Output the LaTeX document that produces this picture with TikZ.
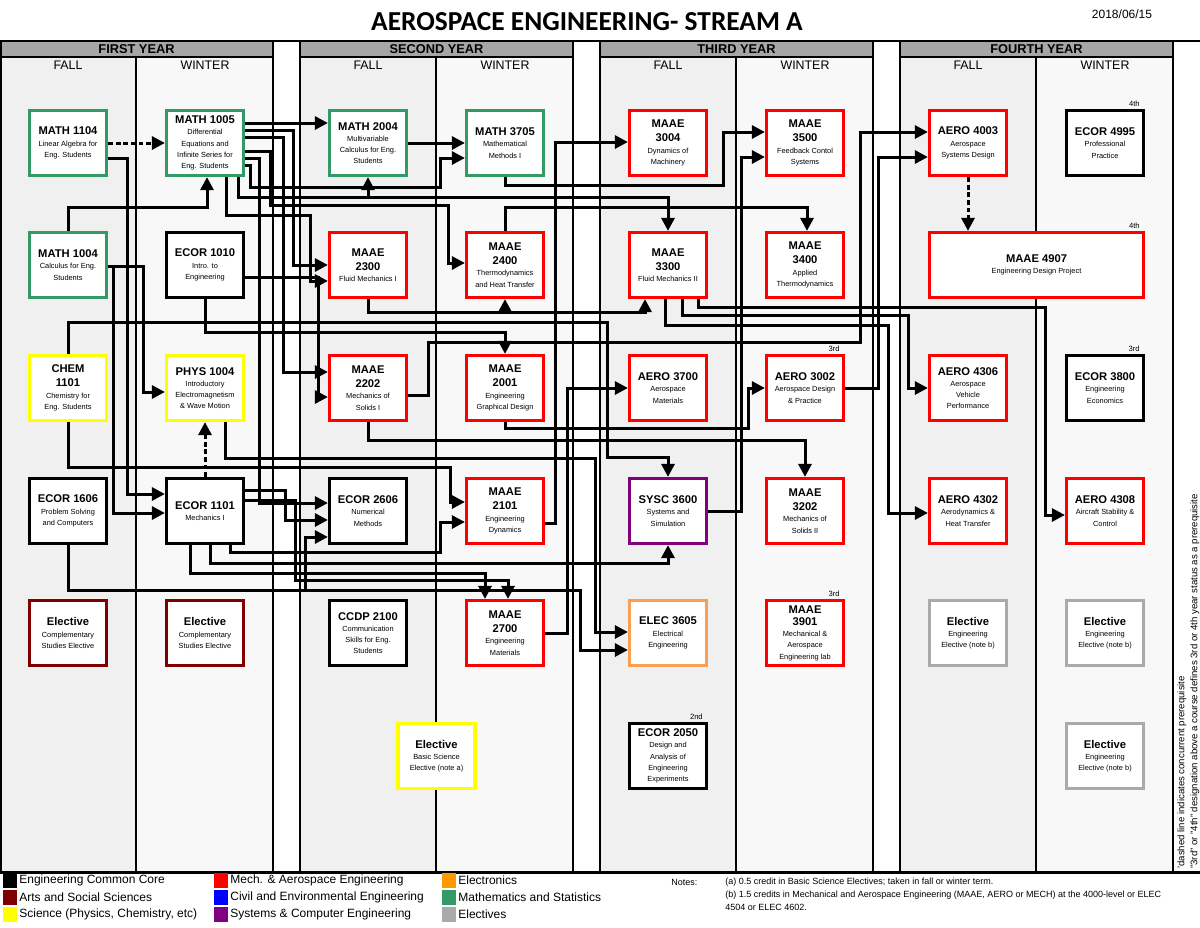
\documentclass[tikz,border=0pt]{standalone}
\usepackage{fontspec}
\setmainfont{Liberation Sans}
\newfontfamily\headfont{Carlito}
\usetikzlibrary{arrows.meta,calc}

\newcommand{\cname}[1]{{\fontsize{5.6}{6.6}\selectfont\bfseries #1}}

\begin{document}
\begin{tikzpicture}[x=0.5pt, y=-0.5pt,
  box/.style={draw, line width=1.6pt, fill=white, minimum width=38.5pt,
    minimum height=32.5pt, align=center, inner sep=0.5pt,
    font=\fontsize{3.7}{5.6}\selectfont},
  mathbox/.style={box, draw=mathgreen},
  maaebox/.style={box, draw=maaered},
  ecorbox/.style={box, draw=black},
  scibox/.style={box, draw=sciyellow},
  artsbox/.style={box, draw=artsred},
  elecbox/.style={box, draw=elecorange},
  syscbox/.style={box, draw=syscpurple},
  electbox/.style={box, draw=electgray},
  wire/.style={line width=1.5pt, -{Triangle[length=6.5pt,width=6.5pt]}},
  conc/.style={wire, dash pattern=on 2.4pt off 1.4pt},
  lvl/.style={font=\fontsize{3.8}{4}\selectfont, inner sep=0.5pt, anchor=south east},
  yearlbl/.style={font=\fontsize{6.4}{7}\selectfont\bfseries, inner sep=0pt},
  semlbl/.style={font=\fontsize{6.2}{7}\selectfont, inner sep=0pt},
  legtxt/.style={font=\fontsize{6}{7}\selectfont, anchor=west, inner sep=0pt},
  notetxt/.style={font=\fontsize{4.5}{5}\selectfont, anchor=west, inner sep=0pt}
]

% Colours of the categories
\definecolor{mathgreen}{RGB}{51,153,102}
\definecolor{maaered}{RGB}{255,0,0}
\definecolor{sciyellow}{RGB}{255,255,0}
\definecolor{artsred}{RGB}{128,0,0}
\definecolor{elecorange}{RGB}{247,160,80}
\definecolor{legorange}{RGB}{255,153,0}
\definecolor{syscpurple}{RGB}{128,0,128}
\definecolor{electgray}{RGB}{170,170,170}
\definecolor{civilblue}{RGB}{0,0,255}
\definecolor{fallgray}{RGB}{240,240,240}
\definecolor{wintergray}{RGB}{248,248,248}
\definecolor{headgray}{RGB}{166,166,166}

\useasboundingbox (0,0) rectangle (1200,927);

% --- THE GRID: years and terms ---
\foreach \x in {0,300,600,900} {
  \fill[fallgray] (\x,57) rectangle (\x+136,872);
  \fill[wintergray] (\x+136,57) rectangle (\x+273,872);
  \fill[headgray] (\x,41) rectangle (\x+273,57);
  \draw[line width=0.8pt] (\x,57) -- (\x+273,57);
  \node[semlbl] (fa\x) at (\x+68,65) {FALL};
  \node[semlbl] (wi\x) at (\x+205,65) {WINTER};
}
\foreach \x/\yr in {0/FIRST YEAR,300/SECOND YEAR,600/THIRD YEAR,900/FOURTH YEAR}
  \node[yearlbl] (yr\x) at (\x+136.5,49) {\yr};
\foreach \x in {1,273,300,573,600,873,900,1173}
  \draw[line width=1pt] (\x,41) -- (\x,872);
\foreach \x in {136,436,736,1036}
  \draw[line width=0.7pt] (\x,57) -- (\x,872);
\draw[line width=1.4pt] (0,41) -- (1200,41);
\draw[line width=1.3pt] (0,872.5) -- (1200,872.5);

\node[font=\headfont\bfseries\fontsize{13.7}{15}\selectfont] (title) at (587,22)
  {AEROSPACE ENGINEERING- STREAM A};
\node[font=\fontsize{6}{7}\selectfont] (date) at (1122,14) {2018/06/15};

% --- FIRST YEAR ---
\node[mathbox] (m1104) at (68,143) {\cname{MATH 1104}\\Linear Algebra for\\Eng. Students};
\node[mathbox] (m1005) at (205,143) {\cname{MATH 1005}\\Differential\\Equations and\\Infinite Series for\\Eng. Students};
\node[mathbox] (m1004) at (68,265) {\cname{MATH 1004}\\Calculus for Eng.\\Students};
\node[ecorbox] (c1010) at (205,265) {\cname{ECOR 1010}\\Intro. to\\Engineering};
\node[scibox] (ch1101) at (68,388) {\cname{CHEM}\\[1.4pt]\cname{1101}\\Chemistry for\\Eng. Students};
\node[scibox] (p1004) at (205,388) {\cname{PHYS 1004}\\Introductory\\Electromagnetism\\\& Wave Motion};
\node[ecorbox] (c1606) at (68,511) {\cname{ECOR 1606}\\Problem Solving\\and Computers};
\node[ecorbox] (c1101) at (205,511) {\cname{ECOR 1101}\\Mechanics I};
\node[artsbox] (el1) at (68,633) {\cname{Elective}\\Complementary\\Studies Elective};
\node[artsbox] (el2) at (205,633) {\cname{Elective}\\Complementary\\Studies Elective};

% --- SECOND YEAR ---
\node[mathbox] (m2004) at (368,143) {\cname{MATH 2004}\\Multivariable\\Calculus for Eng.\\Students};
\node[mathbox] (m3705) at (505,143) {\cname{MATH 3705}\\Mathematical\\Methods I};
\node[maaebox] (e2300) at (368,265) {\cname{MAAE}\\[1.4pt]\cname{2300}\\Fluid Mechanics I};
\node[maaebox] (e2400) at (505,265) {\cname{MAAE}\\[1.4pt]\cname{2400}\\Thermodynamics\\and Heat Transfer};
\node[maaebox] (e2202) at (368,388) {\cname{MAAE}\\[1.4pt]\cname{2202}\\Mechanics of\\Solids I};
\node[maaebox] (e2001) at (505,388) {\cname{MAAE}\\[1.4pt]\cname{2001}\\Engineering\\Graphical Design};
\node[ecorbox] (c2606) at (368,511) {\cname{ECOR 2606}\\Numerical\\Methods};
\node[maaebox] (e2101) at (505,511) {\cname{MAAE}\\[1.4pt]\cname{2101}\\Engineering\\Dynamics};
\node[ecorbox] (cc2100) at (368,633) {\cname{CCDP 2100}\\Communication\\Skills for Eng.\\Students};
\node[maaebox] (e2700) at (505,633) {\cname{MAAE}\\[1.4pt]\cname{2700}\\Engineering\\Materials};
\node[scibox] (elb) at (436.5,756) {\cname{Elective}\\Basic Science\\Elective (note a)};

% --- THIRD YEAR ---
\node[maaebox] (e3004) at (668,143) {\cname{MAAE}\\[1.4pt]\cname{3004}\\Dynamics of\\Machinery};
\node[maaebox] (e3500) at (805,143) {\cname{MAAE}\\[1.4pt]\cname{3500}\\Feedback Contol\\Systems};
\node[maaebox] (e3300) at (668,265) {\cname{MAAE}\\[1.4pt]\cname{3300}\\Fluid Mechanics II};
\node[maaebox] (e3400) at (805,265) {\cname{MAAE}\\[1.4pt]\cname{3400}\\Applied\\Thermodynamics};
\node[maaebox] (a3700) at (668,388) {\cname{AERO 3700}\\Aerospace\\Materials};
\node[maaebox] (a3002) at (805,388) {\cname{AERO 3002}\\Aerospace Design\\\& Practice};
\node[syscbox] (s3600) at (668,511) {\cname{SYSC 3600}\\Systems and\\Simulation};
\node[maaebox] (e3202) at (805,511) {\cname{MAAE}\\[1.4pt]\cname{3202}\\Mechanics of\\Solids II};
\node[elecbox] (el3605) at (668,633) {\cname{ELEC 3605}\\Electrical\\Engineering};
\node[maaebox] (e3901) at (805,633) {\cname{MAAE}\\[0.6pt]\cname{3901}\\Mechanical \&\\Aerospace\\Engineering lab};
\node[ecorbox] (c2050) at (668,756) {\cname{ECOR 2050}\\Design and\\Analysis of\\Engineering\\Experiments};

% --- FOURTH YEAR ---
\node[maaebox] (a4003) at (968,143) {\cname{AERO 4003}\\Aerospace\\Systems Design};
\node[ecorbox] (c4995) at (1105,143) {\cname{ECOR 4995}\\Professional\\Practice};
\node[maaebox, minimum width=107pt] (e4907) at (1036.5,265) {\cname{MAAE 4907}\\Engineering Design Project};
\node[maaebox] (a4306) at (968,388) {\cname{AERO 4306}\\Aerospace\\Vehicle\\Performance};
\node[ecorbox] (c3800) at (1105,388) {\cname{ECOR 3800}\\Engineering\\Economics};
\node[maaebox] (a4302) at (968,511) {\cname{AERO 4302}\\Aerodynamics \&\\Heat Transfer};
\node[maaebox] (a4308) at (1105,511) {\cname{AERO 4308}\\Aircraft Stability \&\\Control};
\node[electbox] (el7) at (968,633) {\cname{Elective}\\Engineering\\Elective (note b)};
\node[electbox] (el8) at (1105,633) {\cname{Elective}\\Engineering\\Elective (note b)};
\node[electbox] (el9) at (1105,756) {\cname{Elective}\\Engineering\\Elective (note b)};

% year status marks
\node[lvl] (lv4995) at ($(c4995.north east)+(-4,-1)$) {4th};
\node[lvl] (lv4907) at ($(e4907.north east)+(-4,-1)$) {4th};
\node[lvl] (lv3002) at ($(a3002.north east)+(-4,-1)$) {3rd};
\node[lvl] (lv3800) at ($(c3800.north east)+(-4,-1)$) {3rd};
\node[lvl] (lv3901) at ($(e3901.north east)+(-4,-1)$) {3rd};
\node[lvl] (lv2050) at ($(c2050.north east)+(-4,-1)$) {2nd};

% --- PREREQUISITES: first year ---
\draw[conc] (m1104.east) -- (m1005.west);
\draw[wire] (m1104.east |- 0,158) -| (127,494) -- (c1101.west |- 0,494);
\draw[wire] (m1004.north) |- (207,207) -- (m1005.south -| 207,0);
\draw[wire] (m1004.east |- 0,266) -| (113,513) -- (c1101.west |- 0,513);
\draw[wire] (m1004.east |- 0,266) -| (143,392) -- (p1004.west |- 0,392);
\draw[conc] (c1101.north) -- (p1004.south);

% MATH 1005 bundle
\draw[wire] (m1005.east |- 0,123) -- (m2004.west |- 0,123);
\draw[wire] (m1005.east |- 0,130) -| (293,265) -- (e2300.west);
\draw[wire] (m1005.east |- 0,137) -| (283,372) -- (e2202.west |- 0,372);
\draw[wire] (m1005.east |- 0,151) -| (270,205) -| (448,263) -- (e2400.west |- 0,263);
\draw[wire] (m1005.east |- 0,158) -| (259,503) -- (c2606.west |- 0,503);
\draw[wire] (m1005.east |- 0,165) -| (250,187) -| (440,158) -- (m3705.west |- 0,158);
\draw[wire] (m1005.south -| 238,0) |- (368,197) -- (m2004.south);
\draw[wire] (m1005.south -| 238,0) |- (668,197) -- (e3300.north);
\draw[wire] (m1005.south -| 226,0) |- (310,215) |- (e2300.west |- 0,281);

% ECOR 1010, CHEM 1101, PHYS 1004, ECOR 1101, ECOR 1606
\draw[wire] (c1010.east |- 0,277) -| (318,397) -- (e2202.west |- 0,397);
\draw[wire] (c1010.south) |- (505,332) -- (e2001.north);
\draw[wire] (ch1101.north) |- (607,322) |- (668,457) -- (s3600.north);
\draw[wire] (ch1101.south) |- (450,467) |- (e2101.west |- 0,502);
\draw[wire] (p1004.south -| 225,0) |- (595,458) |- (el3605.west |- 0,632);
\draw[wire] (c1101.south -| 230,0) |- (440,552) |- (e2101.west |- 0,522);
\draw[wire] (c1101.south -| 210,0) |- (668,563) -- (s3600.south);
\draw[wire] (c1101.south -| 190,0) |- (485,573) -- (e2700.north -| 485,0);
\draw[wire] (c1101.east |- 0,500) -| (295,580) -| (e2700.north -| 508,0);
\draw[wire] (c1101.east |- 0,490) -| (285,520) -- (c2606.west |- 0,520);
\draw[wire] (c1606.south) |- (305,590) |- (c2606.west |- 0,537);
\draw[wire] (c1606.south) |- (580,590) |- (el3605.west |- 0,650);

% --- PREREQUISITES: second year ---
\draw[wire] (m2004.east) -- (m3705.west);
\draw[wire] (m3705.south) |- (723,185) |- (e3500.west |- 0,132);
\draw[wire] (e2300.south) |- (505,312) -- (e2400.south);
\draw[wire] (e2300.south) |- (645,312) -- (e3300.south -| 645,0);
\draw[wire] (e2400.north) |- (807,207) -- (e3400.north -| 807,0);
\draw[wire] (e2202.south) |- (805,440) -- (e3202.north);
\draw[wire] (e2202.east |- 0,395) -| (428,342) -| (860,132) -- (a4003.west |- 0,132);
\draw[wire] (e2001.south) |- (748,428) |- (a3002.west);
\draw[wire] (e2101.east |- 0,523) -| (555,142) -- (e3004.west |- 0,142);
\draw[wire] (e2700.east) -| (567,388) -- (a3700.west);

% --- PREREQUISITES: third year ---
\draw[wire] (s3600.east) -| (741,157) -- (e3500.west |- 0,157);
\draw[wire] (a3002.east) -| (878,157) -- (a4003.west |- 0,157);
\draw[wire] (e3300.south -| 665,0) |- (888,325) |- (a4302.west |- 0,513);
\draw[wire] (e3300.south -| 682,0) |- (908,315) |- (a4306.west);
\draw[wire] (e3300.south -| 698,0) |- (1045,307) |- (a4308.west |- 0,515);
\draw[conc] (a4003.south) -- (e4907.north -| a4003.south);

% --- LEGEND AND NOTES ---
\foreach \x/\y/\c/\t [count=\i] in {
  3/880/black/Engineering Common Core,
  3/897/artsred/Arts and Social Sciences,
  3/914/sciyellow/{Science (Physics, Chemistry, etc)},
  214/880/maaered/Mech. \& Aerospace Engineering,
  214/897/civilblue/Civil and Environmental Engineering,
  214/914/syscpurple/Systems \& Computer Engineering,
  442/880/legorange/Electronics,
  442/897/mathgreen/Mathematics and Statistics,
  442/914/electgray/Electives} {
  \fill[\c] (\x,\y-7.5) rectangle (\x+14,\y+7.5);
  \node[legtxt] (leg\i) at (\x+16,\y) {\t};
}

\node[notetxt] (notes) at (671,882) {Notes:};
\node[notetxt] (nota) at (725,882) {(a) 0.5 credit in Basic Science Electives; taken in fall or winter term.};
\node[notetxt] (notb) at (725,895) {(b) 1.5 credits in Mechanical and Aerospace Engineering (MAAE, AERO or MECH) at the 4000-level or ELEC};
\node[notetxt] (notc) at (725,907) {4504 or ELEC 4602.};

\node[notetxt, rotate=90, font=\fontsize{4.8}{5}\selectfont] (dashnote) at (1182,869) {'dashed line indicates concurrent prerequisite};
\node[notetxt, rotate=90, font=\fontsize{4.8}{5}\selectfont] (yearnote) at (1195,869) {"3rd" or "4th" designation above a course defines 3rd or 4th year status as a prerequisite};

\end{tikzpicture}
\end{document}
